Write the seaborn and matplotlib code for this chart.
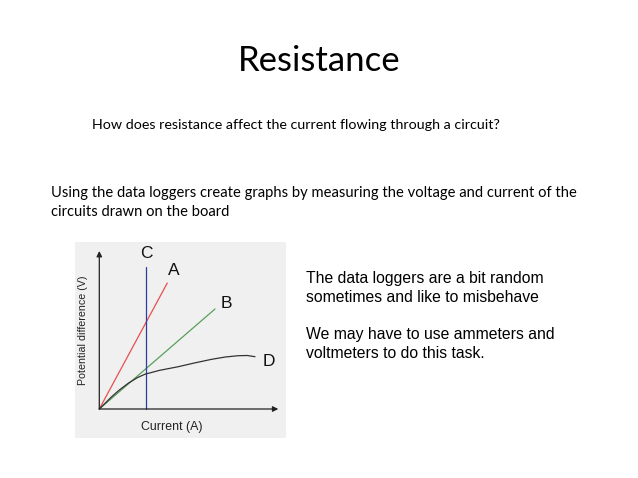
import matplotlib
matplotlib.use("Agg")
import matplotlib.pyplot as plt
import seaborn as sns

# slide text
title = "Resistance"
question = "How does resistance affect the current flowing through a circuit?"
task_lines = ["Using the data loggers create graphs by measuring the voltage and current of the",
              "circuits drawn on the board"]
note_lines = ["The data loggers are a bit random", "sometimes and like to misbehave", "",
              "We may have to use ammeters and", "voltmeters to do this task."]

# chart data (current, potential difference), arbitrary units
a_x = [0, 68]
a_y = [0, 126]
b_x = [0, 115.7]
b_y = [0, 100]
c_x = [47, 47]
c_y = [0, 142]
d_x = [0, 6, 12.4, 20, 29, 38, 45.7, 60, 79, 95, 112.4, 126, 139, 148, 155.7]
d_y = [0, 6, 12.3, 19, 25.8, 31.3, 34.8, 38.6, 42.3, 46, 49.7, 52, 53.3, 53.5, 52.3]
line_names = ["A", "B", "C", "D"]
x_label = "Current (A)"
y_label = "Potential difference (V)"

sns.set_style("white")
plt.rcParams["font.family"] = ["Lato", "DejaVu Sans"]

W, H = 638, 478
fig = plt.figure(figsize=(W / 100, H / 100), dpi=100)
fig.patch.set_facecolor("white")


def fx(px):
    return px / W


def fy(py):
    return 1 - py / H


fig.text(fx(319), fy(61), title, ha="center", va="center", fontsize=25, color="black")
fig.text(fx(92), fy(125), question, ha="left", va="center", fontsize=10.3, color="black")
for i, line in enumerate(task_lines):
    fig.text(fx(51), fy(193 + i * 19.5), line, ha="left", va="center", fontsize=10.65, color="black")
for i, line in enumerate(note_lines):
    fig.text(fx(306), fy(278 + i * 19), line, ha="left", va="center", fontsize=11.3,
             family="Liberation Sans", color="black")

# chart box
box = (74.7, 242, 285.7, 438)
ox, oy = 99.3, 409
ax = fig.add_axes([fx(box[0]), fy(box[3]), (box[2] - box[0]) / W, (box[3] - box[1]) / H])
ax.set_facecolor("#f0f0f0")
ax.set_xlim(box[0] - ox, box[2] - ox)
ax.set_ylim(oy - box[3], oy - box[1])
for s in ax.spines.values():
    s.set_visible(False)
ax.set_xticks([])
ax.set_yticks([])

sns.lineplot(x=a_x, y=a_y, ax=ax, color="#e8504f", lw=0.9, estimator=None, sort=False)
sns.lineplot(x=b_x, y=b_y, ax=ax, color="#5a9e5a", lw=0.9, estimator=None, sort=False)
sns.lineplot(x=c_x, y=c_y, ax=ax, color="#2d3f9e", lw=0.9, estimator=None, sort=False)
sns.lineplot(x=d_x, y=d_y, ax=ax, color="#333333", lw=0.9, estimator=None, sort=False)

arrow = dict(arrowstyle="-|>", color="#222222", lw=0.9, mutation_scale=8, shrinkA=0, shrinkB=0)
ax.annotate("", xy=(179, 0), xytext=(0, 0), arrowprops=arrow)
ax.annotate("", xy=(0, 158), xytext=(0, 0), arrowprops=arrow)

label_pos = {"A": (74.7, 138.3), "B": (127.4, 105.7), "C": (47.4, 155), "D": (170, 47.3)}
for name in line_names:
    ax.text(*label_pos[name], name, ha="center", va="center", fontsize=12.5,
            family="Liberation Sans", color="#111111")

ax.text(72.4, 409 - 426.7, x_label, ha="center", va="center", fontsize=8.9,
        family="Liberation Sans", color="#222222")
ax.text(83.3 - ox, 409 - 330, y_label, ha="center", va="center", fontsize=7.7,
        family="Liberation Sans", rotation=90, color="#222222")

fig.savefig("out.png", dpi=100, facecolor="white")
